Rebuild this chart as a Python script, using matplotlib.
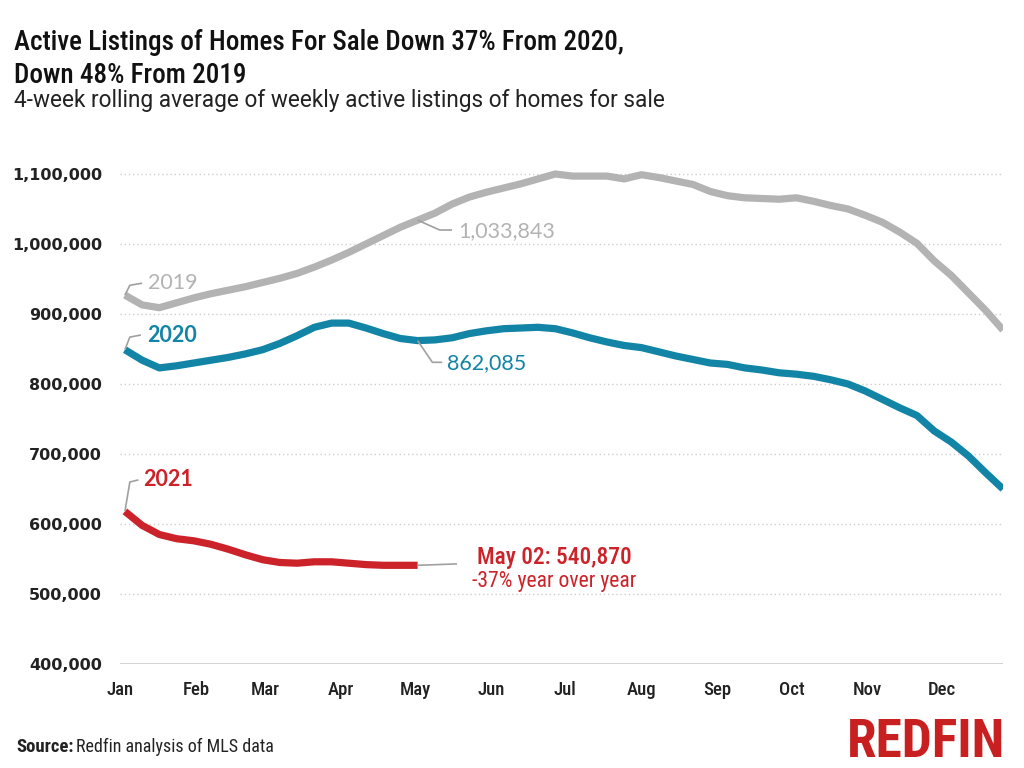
import os
import matplotlib
matplotlib.use("Agg")
import matplotlib.pyplot as plt
from matplotlib import font_manager
from matplotlib.font_manager import FontProperties

# ---------------- data ----------------
week_start_day = list(range(2, 360, 7))  # day-of-year of each weekly observation (52 weeks)

listings_2019 = [927, 913, 909, 916, 923, 929, 934, 939, 945, 951, 958, 967, 977, 988,
                 1000, 1012, 1024, 1034, 1044, 1057, 1067, 1074, 1080, 1086, 1093, 1100,
                 1097, 1097, 1097, 1093, 1099, 1095, 1090, 1085, 1075, 1069, 1066, 1065,
                 1064, 1066, 1061, 1055, 1050, 1041, 1031, 1017, 1001, 976, 955, 930, 905, 877]
listings_2020 = [849, 834, 823, 826, 830, 834, 838, 843, 849, 858, 869, 881, 887, 887,
                 880, 872, 865, 862, 863, 866, 872, 876, 879, 880, 881, 879, 873, 866,
                 860, 855, 852, 846, 840, 835, 830, 828, 823, 820, 816, 814, 811, 806,
                 800, 790, 778, 766, 755, 733, 717, 697, 673, 650]
listings_2021 = [618, 598, 585, 579, 576, 571, 564, 556, 549, 545, 544, 546, 546, 544,
                 542, 541, 541, 541]

listings_2019 = [v * 1000 for v in listings_2019]
listings_2020 = [v * 1000 for v in listings_2020]
listings_2021 = [v * 1000 for v in listings_2021]

month_labels = ["Jan", "Feb", "Mar", "Apr", "May", "Jun", "Jul", "Aug", "Sep", "Oct", "Nov", "Dec"]
month_start_day = [0, 31, 59, 90, 120, 151, 181, 212, 243, 273, 304, 334]
y_ticks = [400000, 500000, 600000, 700000, 800000, 900000, 1000000, 1100000]

C2019 = "#b3b3b3"
C2020 = "#1284a6"
C2021 = "#cc2229"
LEADER = "#a0a0a0"
LATO = ["Lato", "DejaVu Sans"]

# ---------------- font lookup (condensed faces, if installed) ----------------
_files = [f.fname for f in font_manager.fontManager.ttflist]


def find_font(patterns, fallback_family, weight="normal"):
    for pat in patterns:
        for fn in _files:
            b = os.path.basename(fn).lower().replace(" ", "").replace("_", "")
            if "italic" in b or "oblique" in b:
                continue
            if b.startswith(pat):
                return lambda size, fn=fn: FontProperties(fname=fn, size=size)
    return lambda size: FontProperties(family=fallback_family, weight=weight, size=size)


cond_medium = find_font(["robotocondensed-medium", "notosans-condensedmedium",
                         "notosans-condensedsemibold", "robotocondensed-bold",
                         "opensans-condensedsemibold", "opensanscondensed-bold",
                         "liberationsansnarrow-bold", "dejavusanscondensed-bold"],
                        ["Roboto", "DejaVu Sans"], "medium")
cond_bold = find_font(["robotocondensed-bold", "notosans-condensedbold",
                       "opensans-condensedbold", "opensanscondensed-bold",
                       "liberationsansnarrow-bold", "dejavusanscondensed-bold"],
                      ["Roboto", "DejaVu Sans"], "bold")
cond_regular = find_font(["robotocondensed-regular", "notosans-condensed.", "notosans-condensedregular",
                          "opensans-condensedregular", "liberationsansnarrow-regular",
                          "dejavusanscondensed."],
                         ["Roboto", "DejaVu Sans"], "normal")

# ---------------- figure ----------------
fig = plt.figure(figsize=(10.24, 7.68), dpi=100)
ax = fig.add_axes([120 / 1024, 104 / 768, 883 / 1024, 504 / 768])
ax.set_xlim(0, 359)
ax.set_ylim(400000, 1120000)
for s in ax.spines.values():
    s.set_visible(False)

for v in y_ticks:
    if v == y_ticks[0]:
        ax.axhline(v, color="#cfcfcf", lw=1.3, zorder=1)
    else:
        ax.axhline(v, color="#cfcfcf", lw=1.0, ls=(0, (1, 2)), zorder=1)

ax.set_yticks(y_ticks)
ax.set_yticklabels([f"{v:,}" for v in y_ticks], fontsize=11.5, color="#222222",
                   family=["DejaVu Sans"], fontweight="bold")
ax.set_xticks(month_start_day)
ax.set_xticklabels(month_labels, color="#222222")
for lab in ax.get_xticklabels():
    lab.set_fontproperties(cond_medium(13.5))
ax.tick_params(axis="y", length=0, pad=13)
ax.tick_params(axis="x", length=0, pad=12)

lw = 5.2
ax.plot(week_start_day, listings_2019, color=C2019, lw=lw, zorder=3, solid_capstyle="butt")
ax.plot(week_start_day, listings_2020, color=C2020, lw=lw, zorder=4, solid_capstyle="butt")
ax.plot(week_start_day[:len(listings_2021)], listings_2021, color=C2021, lw=lw, zorder=5,
        solid_capstyle="butt")


# leaders & labels
def leader(xs, ys):
    ax.plot(xs, ys, color=LEADER, lw=1.2, zorder=6, solid_capstyle="butt")


x0 = week_start_day[0]
leader([x0, 4, 9], [listings_2019[0], 941000, 944000])
ax.text(11.5, 944000, "2019", color=C2019, fontsize=15.5, family=LATO, va="center", ha="left")

leader([x0, 4, 8.5], [listings_2020[0], 867000, 870000])
ax.text(11, 870000, "2020", color=C2020, fontsize=15.5, family=LATO, fontweight="bold",
        va="center", ha="left")

leader([x0, 4, 7.5], [listings_2021[0], 660000, 663000])
ax.text(9.5, 663000, "2021", color=C2021, fontsize=15.5, family=LATO, fontweight="bold",
        va="center", ha="left")

xm = week_start_day[17]
leader([xm, 130, 135], [listings_2019[17], 1020000, 1020000])
ax.text(137.5, 1019000, "1,033,843", color=C2019, fontsize=15.5, family=LATO,
        va="center", ha="left")

leader([xm, 127, 131], [listings_2020[17], 831000, 831000])
ax.text(133, 830500, "862,085", color=C2020, fontsize=15.5, family=LATO,
        va="center", ha="left")

leader([week_start_day[len(listings_2021) - 1], 137], [listings_2021[-1], 543000])
ax.text(176.5, 552000, "May 02: 540,870", color=C2021, fontproperties=cond_medium(16.8),
        va="center", ha="center")
ax.text(176.5, 518000, "-37% year over year", color=C2021, fontproperties=cond_regular(15.6),
        va="center", ha="center")

# titles
fig.text(14 / 1024, 1 - 50 / 768, "Active Listings of Homes For Sale Down 37% From 2020,",
         fontproperties=cond_medium(19.5), color="#111111", va="baseline")
fig.text(14 / 1024, 1 - 83 / 768, "Down 48% From 2019",
         fontproperties=cond_medium(19.5), color="#111111", va="baseline")
fig.text(14 / 1024, 1 - 107 / 768, "4-week rolling average of weekly active listings of homes for sale",
         fontproperties=FontProperties(family=["Roboto", "DejaVu Sans"], size=16.25),
         color="#222222", va="baseline")

# source
t1 = fig.text(16 / 1024, 1 - 752 / 768, "Source:", fontproperties=cond_bold(13.5),
              color="#222222", va="baseline")
fig.canvas.draw()
bb = t1.get_window_extent()
fig.text((bb.x1 + 3) / 1024, 1 - 752 / 768, "Redfin analysis of MLS data",
         fontproperties=cond_regular(13), color="#222222", va="baseline")

# logo
fig.text(1005 / 1024, 1 - 757 / 768, "REDFIN", fontproperties=cond_bold(38.5),
         color="#c82021", ha="right", va="baseline")

fig.savefig("out.png", dpi=100)
